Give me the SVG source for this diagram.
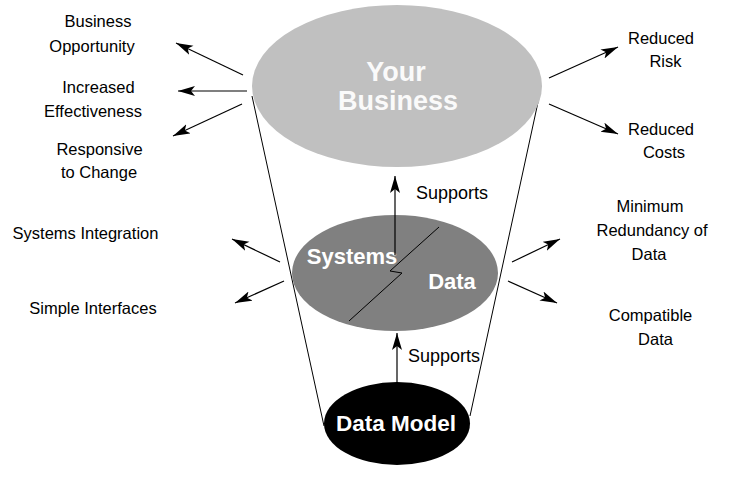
<svg xmlns="http://www.w3.org/2000/svg" width="741" height="477" viewBox="0 0 741 477">
<style>
.lbl{font-family:"Liberation Sans",Arial,sans-serif;font-size:16.5px;fill:#000;text-anchor:middle}
.sup{font-family:"Liberation Sans",Arial,sans-serif;font-size:18px;fill:#000;text-anchor:middle}
.big{font-family:"Liberation Sans",Arial,sans-serif;font-weight:bold;text-anchor:middle}
.ln{stroke:#000;stroke-width:1;fill:none}
.ar{stroke:#000;stroke-width:1.2;fill:none;marker-end:url(#ah)}
</style>
<defs>
<marker id="ah" markerUnits="userSpaceOnUse" markerWidth="18" markerHeight="12" refX="17" refY="5" orient="auto">
<path d="M0,0 L17,5 L0,10 L4,5 Z" fill="#000"/>
</marker>
</defs>
<rect width="741" height="477" fill="#fff"/>
<g id="funnel">
<line class="ln" x1="252" y1="96" x2="324" y2="426"/>
<line class="ln" x1="540" y1="93" x2="470" y2="416"/>
</g>
<g id="your-business">
<ellipse cx="397" cy="86" rx="145" ry="81" fill="#c0c0c0"/>
<text class="big" x="396" y="81" font-size="27" fill="#fafafa">Your</text>
<text class="big" x="398" y="110" font-size="27" fill="#fafafa">Business</text>
</g>
<g id="systems-data">
<ellipse cx="395" cy="273" rx="103" ry="58" fill="#808080"/>
<text class="big" x="352" y="264" font-size="22" fill="#fff">Systems</text>
<text class="big" x="452" y="289" font-size="22" fill="#fff">Data</text>
<polyline class="ln" points="439,227 390,271 402,273 349,321"/>
</g>
<g id="data-model">
<ellipse cx="397" cy="423.5" rx="73" ry="41.5" fill="#000"/>
<text class="big" x="396" y="431" font-size="22.5" fill="#fff">Data Model</text>
</g>
<g id="connectors">
<line class="ar" x1="395" y1="255" x2="395" y2="176"/>
<line class="ar" x1="397" y1="382" x2="397" y2="333"/>
<line class="ar" x1="243" y1="75" x2="176" y2="43"/>
<line class="ar" x1="247" y1="91" x2="178" y2="91"/>
<line class="ar" x1="242" y1="104" x2="173" y2="136"/>
<line class="ar" x1="549" y1="78" x2="618" y2="47"/>
<line class="ar" x1="549" y1="104" x2="618" y2="134"/>
<line class="ar" x1="280" y1="262" x2="232" y2="239"/>
<line class="ar" x1="284" y1="281" x2="235" y2="303"/>
<line class="ar" x1="512" y1="262" x2="560" y2="239"/>
<line class="ar" x1="508" y1="281" x2="557" y2="303"/>
</g>
<g id="labels">
<text class="sup" x="452" y="199">Supports</text>
<text class="sup" x="444" y="362">Supports</text>
<text class="lbl" x="98" y="27">Business</text>
<text class="lbl" x="92" y="52">Opportunity</text>
<text class="lbl" x="98.5" y="93">Increased</text>
<text class="lbl" x="93" y="117">Effectiveness</text>
<text class="lbl" x="99.5" y="155">Responsive</text>
<text class="lbl" x="99" y="178">to Change</text>
<text class="lbl" x="85.5" y="239">Systems Integration</text>
<text class="lbl" x="93" y="314">Simple Interfaces</text>
<text class="lbl" x="661" y="44">Reduced</text>
<text class="lbl" x="665.5" y="67">Risk</text>
<text class="lbl" x="661" y="135">Reduced</text>
<text class="lbl" x="664" y="158">Costs</text>
<text class="lbl" x="650" y="212">Minimum</text>
<text class="lbl" x="652" y="236">Redundancy of</text>
<text class="lbl" x="649" y="260">Data</text>
<text class="lbl" x="650.5" y="321">Compatible</text>
<text class="lbl" x="655.5" y="345">Data</text>
</g>
</svg>
